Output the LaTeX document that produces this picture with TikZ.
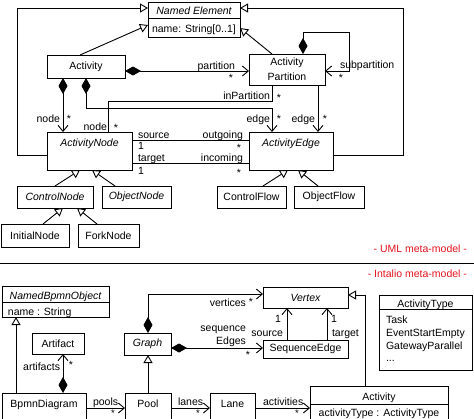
\documentclass[tikz,border=0pt]{standalone}
\usepackage{fontspec}
\setmainfont{Liberation Sans}
\usetikzlibrary{arrows.meta,calc}
\definecolor{umlred}{RGB}{228,18,28}
\newcommand\mkbox[7]{\node[box,#6,minimum width={#4pt-#2pt},minimum height={#5pt-#3pt},anchor=north west] (#1) at (#2,#3) {#7};}
\tikzset{
  every node/.style={font=\fontsize{10.5}{12.5}\selectfont, inner sep=0pt, outer sep=0pt},
  box/.style={draw, line width=0.9pt, fill=white},
  ln/.style={line width=0.9pt},
  gen/.style={ln, -{Triangle[open,length=8pt,width=9pt,fill=white]}},
  nav/.style={ln, -{Straight Barb[length=6pt,width=10pt]}},
  comp/.style={ln, {Diamond[length=16pt,width=9pt]}-{Straight Barb[length=6pt,width=10pt]}},
  redlab/.style={text=umlred},
  smallstar/.style={font=\fontsize{9.5}{10}\selectfont}
}
\begin{document}
\begin{tikzpicture}[x=1pt,y=-1pt]
\useasboundingbox (0,0) rectangle (474,418);
\clip (0,0) rectangle (474,418);

% ---------- UML part: boxes ----------
\mkbox{NE}{148}{2}{240}{37}{}{}
\node[anchor=base] (NEt) at ($(NE.north)+(0,12)$) {\itshape Named Element};
\draw[ln] ($(NE.north west)+(0,16)$) -- ($(NE.north east)+(0,16)$);
\node[anchor=base west] (NEa) at ($(NE.north west)+(4,30)$) {name: String[0..1]};

\mkbox{ACT}{47}{55}{125}{78}{}{Activity}
\mkbox{AP}{249}{54}{325}{85}{align=center,font=\fontsize{10.5}{15}\selectfont}{Activity\\Partition}
\mkbox{AN}{47}{132}{132}{170}{}{}
\node[anchor=base] (ANt) at ($(AN.north)+(0,14)$) {\itshape ActivityNode};
\mkbox{AE}{249}{132}{333}{170}{}{}
\node[anchor=base] (AEt) at ($(AE.north)+(0,14)$) {\itshape ActivityEdge};
\mkbox{CN}{17}{186}{93}{208}{}{\itshape ControlNode}
\mkbox{ON}{102}{186}{171}{208}{}{\itshape ObjectNode}
\mkbox{IN}{1}{224}{69}{247}{}{InitialNode}
\mkbox{FN}{78}{224}{139}{247}{}{ForkNode}
\mkbox{CF}{217}{186}{286}{208}{}{ControlFlow}
\mkbox{OF}{294}{186}{364}{208}{}{ObjectFlow}

% ---------- UML part: connectors ----------
\draw[gen] ($(AN.north west)+(0,23)$) -- ++(-30,0) |- ($(NE.north west)+(0,6)$);
\draw[gen] ($(AE.north east)+(0,23)$) -- ++(70,0) |- ($(NE.north east)+(0,6)$);
\draw[gen] ($(ACT.north west)+(33,0)$) -- ($(NE.north west)+(0,23)$);
\draw[gen] ($(AP.north west)+(23,0)$) -- ($(NE.north east)+(0,26)$);
\draw[comp] ($(ACT.north east)+(0,16)$) -- ($(AP.north west)+(0,17)$);
\draw[comp] ($(AP.north west)+(54,0)$) -- ++(0,-22) -| ($(AP.north east)+(24,17)$) -- ($(AP.north east)+(0,17)$);
\draw[comp] ($(ACT.south west)+(16,0)$) -- ($(AN.north west)+(16,0)$);
\draw[comp] ($(ACT.south west)+(39,0)$) -- ++(0,30) -| ($(AE.north west)+(23,0)$);
\draw[ln] ($(AP.south west)+(23,0)$) -- ++(0,16) -| ($(AN.north west)+(61,0)$);
\draw[nav] ($(AP.south west)+(69,0)$) -- ($(AE.north west)+(69,0)$);
\draw[ln] ($(AN.north east)+(0,8)$) -- ($(AE.north west)+(0,8)$);
\draw[ln] ($(AN.north east)+(0,31)$) -- ($(AE.north west)+(0,31)$);
\draw[gen] ($(CN.north west)+(38,0)$) -- ($(AN.south west)+(33,0)$);
\draw[gen] ($(ON.north west)+(13,0)$) -- ($(AN.south west)+(45,0)$);
\draw[gen] ($(IN.north west)+(42,0)$) -- ($(CN.south west)+(46,0)$);
\draw[gen] ($(FN.north west)+(19,0)$) -- ($(CN.south west)+(60,0)$);
\draw[gen] ($(CF.north west)+(46,0)$) -- ($(AE.south west)+(39,0)$);
\draw[gen] ($(OF.north west)+(24,0)$) -- ($(AE.south west)+(49,0)$);

% ---------- UML part: labels ----------
\node[anchor=base east] (t1) at (235,69) {partition};
\node[anchor=base] (t2) at (231,81) {*};
\node[anchor=base west] (t3) at (340,68) {subpartition};
\node[anchor=base] (t4) at (341,81) {*};
\node[anchor=base east] (t5) at (60,122) {node};
\node[anchor=base] (t6) at (69,122) {*};
\node[anchor=base east] (t7) at (270,122) {edge};
\node[anchor=base] (t8) at (279,122) {*};
\node[anchor=base east] (t9) at (270,99) {inPartition};
\node[anchor=base] (t10) at (279,101) {*};
\node[anchor=base east] (t11) at (107,130) {node};
\node[anchor=base] (t12) at (116,131) {*};
\node[anchor=base east] (t13) at (315,122) {edge};
\node[anchor=base] (t14) at (325,122) {*};
\node[anchor=base west] (t15) at (138,138) {source};
\node[anchor=base] (t16) at (141,149) {1};
\node[anchor=base west] (t17) at (138,161) {target};
\node[anchor=base] (t18) at (141,174) {1};
\node[anchor=base east] (t19) at (243,138) {outgoing};
\node[anchor=base] (t20) at (239,151) {*};
\node[anchor=base east] (t21) at (243,161) {incoming};
\node[anchor=base] (t22) at (239,176) {*};

\node[anchor=base east, redlab] (uml) at (467,252) {- UML meta-model -};
\draw[ln] (0,263) -- (474,263);
\node[anchor=base east, redlab] (intalio) at (467,277) {- Intalio meta-model -};

% ---------- Intalio part: boxes ----------
\mkbox{NBO}{2}{286}{109}{317}{}{}
\node[anchor=base] (NBOt) at ($(NBO.north)+(0,13)$) {\itshape NamedBpmnObject};
\draw[ln] ($(NBO.north west)+(0,16)$) -- ($(NBO.north east)+(0,16)$);
\node[anchor=base west] (NBOa) at ($(NBO.north west)+(6,29)$) {name : String};

\mkbox{ART}{32}{333}{84}{354}{}{Artifact}
\mkbox{GR}{124}{333}{171}{355}{}{\itshape Graph}
\mkbox{VX}{263}{287}{348}{308}{}{\itshape Vertex}
\mkbox{SE}{263}{340}{348}{358}{}{SequenceEdge}

\mkbox{AT}{379}{295}{472}{370}{}{}
\node[anchor=base] (ATt) at ($(AT.north)+(0,12)$) {ActivityType};
\draw[ln] ($(AT.north west)+(0,14)$) -- ($(AT.north east)+(0,14)$);
\node[anchor=base west] (AT1) at ($(AT.north west)+(7,28)$) {Task};
\node[anchor=base west] (AT2) at ($(AT.north west)+(7,41)$) {EventStartEmpty};
\node[anchor=base west] (AT3) at ($(AT.north west)+(7,54)$) {GatewayParallel};
\node[anchor=base west] (AT4) at ($(AT.north west)+(7,66)$) {...};

\mkbox{BD}{2}{393}{86}{428}{}{}
\node[anchor=base] (BDt) at ($(BD.north)+(0,14)$) {BpmnDiagram};
\mkbox{PL}{125}{393}{171}{428}{}{}
\node[anchor=base] (PLt) at ($(PL.north)+(0,14)$) {Pool};
\mkbox{LN}{210}{393}{255}{428}{}{}
\node[anchor=base] (LNt) at ($(LN.north)+(0,14)$) {Lane};
\mkbox{A2}{310}{386}{448}{432}{}{}
\node[anchor=base] (A2t) at ($(A2.north)+(0,14)$) {Activity};
\draw[ln] ($(A2.north west)+(0,18)$) -- ($(A2.north east)+(0,18)$);
\node[anchor=base] (A2a) at ($(A2.north)+(0,30)$) {activityType : ActivityType};

% ---------- Intalio part: connectors ----------
\draw[gen] ($(BD.north west)+(14,0)$) -- ($(NBO.south west)+(14,0)$);
\draw[comp] ($(BD.north west)+(61,0)$) -- ($(ART.south west)+(31,0)$);
\draw[comp] ($(GR.north west)+(24,0)$) |- ($(VX.north west)+(0,7)$);
\draw[comp] ($(GR.north east)+(0,15)$) -- ($(SE.north west)+(0,8)$);
\draw[gen] ($(PL.north west)+(23,0)$) -- ($(GR.south west)+(24,0)$);
\draw[nav] ($(SE.north west)+(24,0)$) -- ($(VX.south west)+(24,0)$);
\draw[nav] ($(SE.north west)+(64,0)$) -- ($(VX.south west)+(64,0)$);
\draw[gen] ($(A2.north west)+(55,0)$) |- ($(VX.north east)+(0,8)$);
\draw[nav] ($(BD.north east)+(0,15)$) -- ($(PL.north west)+(0,15)$);
\draw[nav] ($(PL.north east)+(0,15)$) -- ($(LN.north west)+(0,15)$);
\draw[nav] ($(LN.north east)+(0,15)$) -- ($(A2.north west)+(0,22)$);

% ---------- Intalio part: labels ----------
\node[anchor=base east] (u1) at (60,370) {artifacts};
\node[anchor=base] (u2) at (71,368) {*};
\node[anchor=base east] (u3) at (246,306) {vertices};
\node[anchor=base] (u4) at (251,305) {*};
\node[anchor=base east] (u5) at (246,331) {sequence};
\node[anchor=base east] (u6) at (246,344) {Edges};
\node[anchor=base] (u7) at (248,358) {*};
\node[anchor=base] (u8) at (278,322) {1};
\node[anchor=base east] (u9) at (283,336) {source};
\node[anchor=base] (u10) at (334,322) {1};
\node[anchor=base west] (u11) at (332,336) {target};
\node[anchor=base west] (u12) at (93,405) {pools};
\node[anchor=base, smallstar] (u13) at (113,416) {*};
\node[anchor=base west] (u14) at (178,405) {lanes};
\node[anchor=base, smallstar] (u15) at (198,416) {*};
\node[anchor=base west] (u16) at (263,405) {activities};
\node[anchor=base, smallstar] (u17) at (297,416) {*};
\end{tikzpicture}
\end{document}
